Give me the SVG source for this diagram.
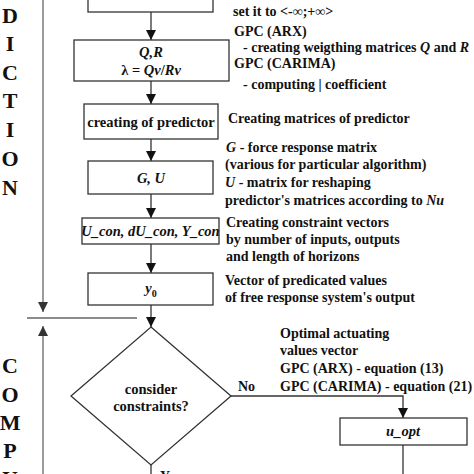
<svg xmlns="http://www.w3.org/2000/svg" width="474" height="474" viewBox="0 0 474 474">
<style>
text{font-family:"Liberation Serif","Times New Roman",serif;font-weight:bold;fill:#111}
.box{fill:#fff;stroke:#333;stroke-width:1.3}
.ln{fill:none;stroke:#333;stroke-width:1.3}
.gl{fill:none;stroke:#666;stroke-width:1.3}
.lbl{font-size:14px}
.bx{font-size:14.5px;text-anchor:middle}
.big{font-size:22px;text-anchor:middle}
.it{font-style:italic}
</style>
<defs>
<marker id="ah" markerWidth="10" markerHeight="12" refX="10" refY="5" orient="auto" markerUnits="userSpaceOnUse">
<path d="M0,0 L10,5 L0,10 Z" fill="#111"/>
</marker>
<marker id="ahg" markerWidth="10" markerHeight="12" refX="10" refY="5" orient="auto" markerUnits="userSpaceOnUse">
<path d="M0,0 L10,5 L0,10 Z" fill="#333"/>
</marker>
</defs>

<g id="side-labels">
<text class="big" x="10" y="23">D</text>
<text class="big" x="10" y="51">I</text>
<text class="big" x="10" y="80">C</text>
<text class="big" x="10" y="108">T</text>
<text class="big" x="10" y="137">I</text>
<text class="big" x="10" y="166">O</text>
<text class="big" x="10" y="195">N</text>
<text class="big" x="10" y="373">C</text>
<text class="big" x="10" y="402">O</text>
<text class="big" x="10" y="430">M</text>
<text class="big" x="10" y="458">P</text>
<text class="big" x="10" y="486">U</text>
</g>

<g id="connectors">
<line class="gl" x1="43" y1="0" x2="43" y2="312" marker-end="url(#ahg)"/>
<line class="gl" x1="27" y1="318" x2="137" y2="318"/>
<line class="gl" x1="43" y1="474" x2="43" y2="326" marker-end="url(#ahg)"/>
<line class="ln" x1="151" y1="12" x2="151" y2="40" marker-end="url(#ah)"/>
<line class="ln" x1="151" y1="81" x2="151" y2="104" marker-end="url(#ah)"/>
<line class="ln" x1="151" y1="139" x2="151" y2="161" marker-end="url(#ah)"/>
<line class="ln" x1="151" y1="194" x2="151" y2="218" marker-end="url(#ah)"/>
<line class="ln" x1="151" y1="244" x2="151" y2="273" marker-end="url(#ah)"/>
<line class="ln" x1="151" y1="305" x2="151" y2="327" marker-end="url(#ah)"/>
<polyline class="ln" points="231,396 403,396 403,418" marker-end="url(#ah)"/>
<line class="ln" x1="403" y1="445" x2="403" y2="474"/>
<line class="ln" x1="151" y1="465" x2="151" y2="474"/>
<text class="lbl" x="238" y="391">No</text>
<text class="lbl" x="160" y="481">Yes</text>
</g>

<g id="n-top"><rect class="box" x="88" y="-10" width="125" height="22"/></g>

<g id="n-qr">
<rect class="box" x="74" y="40" width="155" height="41"/>
<text class="bx it" x="151" y="57">Q,R</text>
<text class="bx" x="151" y="75">λ = <tspan class="it">Qv</tspan>/<tspan class="it">Rv</tspan></text>
</g>

<g id="n-pred">
<rect class="box" x="84" y="104" width="134" height="35"/>
<text class="bx" x="151" y="127">creating of predictor</text>
</g>

<g id="n-gu">
<rect class="box" x="88" y="161" width="125" height="33"/>
<text class="bx it" x="151" y="183">G, U</text>
</g>

<g id="n-con">
<rect class="box" x="82" y="218" width="137" height="26"/>
<text class="bx it" x="150.5" y="236" font-size="13.3">U_con, dU_con, Y_con</text>
</g>

<g id="n-y0">
<rect class="box" x="88" y="273" width="125" height="32"/>
<text class="bx" x="151" y="293"><tspan class="it">y</tspan><tspan font-size="10" dy="4">0</tspan></text>
</g>

<g id="n-dec">
<polygon class="box" points="151,327 231,396 151,465 71,396"/>
<text class="bx" x="151" y="394" font-size="13.5">consider</text>
<text class="bx" x="151" y="411" font-size="13.5">constraints?</text>
</g>

<g id="n-uopt">
<rect class="box" x="340" y="418" width="127" height="27"/>
<text class="bx it" x="403" y="436">u_opt</text>
</g>

<g id="annotations">
<text class="lbl" x="233" y="16">set it to &lt;-∞;+∞&gt;</text>
<text class="lbl" x="234" y="36">GPC (ARX)</text>
<text class="lbl" x="243" y="52">- creating weigthing matrices <tspan class="it">Q</tspan> and <tspan class="it">R</tspan></text>
<text class="lbl" x="234" y="68">GPC (CARIMA)</text>
<text class="lbl" x="243" y="89">- computing |  coefficient</text>
<text class="lbl" x="228" y="123">Creating matrices of predictor</text>
<text class="lbl" x="226" y="152"><tspan class="it">G</tspan> - force response matrix</text>
<text class="lbl" x="225" y="169">(various for particular algorithm)</text>
<text class="lbl" x="225" y="187"><tspan class="it">U</tspan> - matrix for reshaping</text>
<text class="lbl" x="225" y="205">predictor's matrices according to <tspan class="it">Nu</tspan></text>
<text class="lbl" x="226" y="227">Creating constraint vectors</text>
<text class="lbl" x="226" y="244">by number of inputs, outputs</text>
<text class="lbl" x="226" y="261">and length of horizons</text>
<text class="lbl" x="225" y="285">Vector of predicated values</text>
<text class="lbl" x="225" y="302">of free response system's output</text>
<text class="lbl" x="280" y="338">Optimal actuating</text>
<text class="lbl" x="280" y="355">values vector</text>
<text class="lbl" x="280" y="373">GPC (ARX) - equation (13)</text>
<text class="lbl" x="280" y="391">GPC (CARIMA) - equation (21)</text>
</g>
</svg>
